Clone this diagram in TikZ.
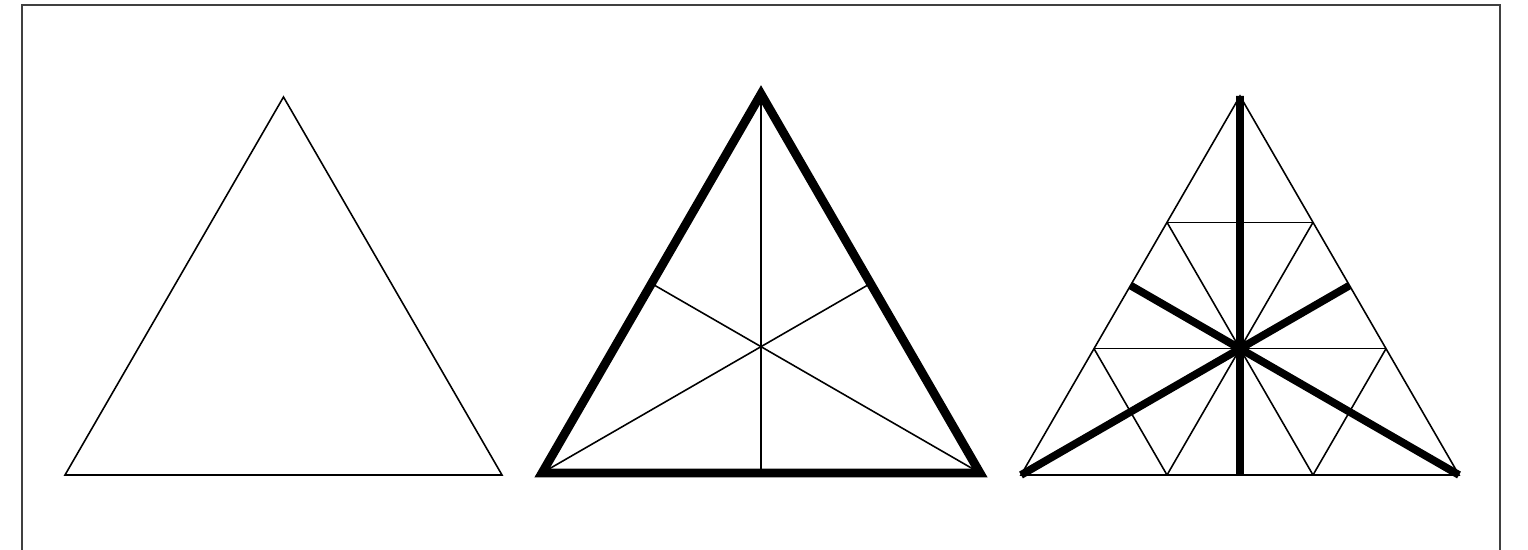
\documentclass[tikz,border=0pt]{standalone}
\usepackage{tikz}
\usetikzlibrary{calc}

\begin{document}
\begin{tikzpicture}[x=0.02cm,y=-0.02cm,
    thinline/.style={line width=0.9pt},
    thickline/.style={line width=5pt,line join=miter}]
  % Canvas and open frame
  \useasboundingbox (0,0) rectangle (1528,550);
  \draw[black!75,line width=1.1pt] (22,550) -- (22,5) -- (1500,5) -- (1500,550);

  % Corners of the three triangles
  \coordinate (A1) at (65,475);   \coordinate (B1) at (502,475);  \coordinate (C1) at (283.5,97);
  \coordinate (A2) at (542,473);  \coordinate (B2) at (980,473);  \coordinate (C2) at (761,94);
  \coordinate (A3) at (1021,475); \coordinate (B3) at (1459,475); \coordinate (C3) at (1240,96);

  % First triangle: plain outline
  \draw[thinline] (A1) -- (B1) -- (C1) -- cycle;

  % Second triangle: thin medians, thick outline
  \draw[thinline] (C2) -- ($(A2)!0.5!(B2)$);
  \draw[thinline] (A2) -- ($(B2)!0.5!(C2)$);
  \draw[thinline] (B2) -- ($(A2)!0.5!(C2)$);
  \draw[thickline] (A2) -- (B2) -- (C2) -- cycle;

  % Third triangle: grid of thirds, thick medians
  \draw[thinline] (A3) -- (B3) -- (C3) -- cycle;
  \foreach \t in {1/3,2/3} {
    \draw[thinline] ($(C3)!\t!(A3)$) -- ($(C3)!\t!(B3)$);
    \draw[thinline] ($(A3)!\t!(B3)$) -- ($(C3)!\t!(B3)$);
    \draw[thinline] ($(B3)!\t!(A3)$) -- ($(C3)!\t!(A3)$);
  }
  \draw[line width=4.4pt] (C3) -- ($(A3)!0.5!(B3)$);
  \draw[line width=4.4pt] (A3) -- ($(B3)!0.5!(C3)$);
  \draw[line width=4.4pt] (B3) -- ($(A3)!0.5!(C3)$);
\end{tikzpicture}
\end{document}
